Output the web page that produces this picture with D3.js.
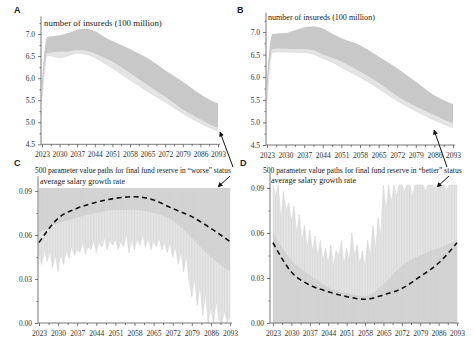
<!DOCTYPE html>
<html>
<head>
<meta charset="utf-8">
<script src="https://cdn.jsdelivr.net/npm/d3@7"></script>
<style>
  body { margin: 0; background: #fff; }
  svg { display: block; }
  .tick text { font-family: "Liberation Serif", serif; font-size: 7.5px; }
  .domain, .tick line { stroke: #555; stroke-width: 0.8; }
</style>
</head>
<body>
<svg width="474" height="346"></svg>
<script>
// ---- data ----
const tickYears = [2023, 2030, 2037, 2044, 2051, 2058, 2065, 2072, 2079, 2086, 2093];

// A / B : number of insureds (100 million), envelope of 500 paths
const bandYears = [2023, 2024, 2025, 2027, 2030, 2033, 2037, 2040, 2044, 2048, 2051, 2058, 2065, 2072, 2079, 2086, 2090, 2093];
const aUpper = [5.9, 6.6, 6.93, 6.95, 6.97, 7.02, 7.1, 7.12, 7.07, 6.93, 6.84, 6.66, 6.45, 6.18, 5.92, 5.64, 5.5, 5.43];
const aLower = [5.57, 6.2, 6.57, 6.58, 6.6, 6.6, 6.63, 6.62, 6.56, 6.45, 6.37, 6.11, 5.84, 5.58, 5.29, 5.06, 4.94, 4.87];
const aMin   = [5.55, 6.15, 6.52, 6.5, 6.46, 6.5, 6.57, 6.55, 6.47, 6.33, 6.23, 5.96, 5.7, 5.46, 5.2, 4.98, 4.87, 4.8];
const bUpper = [5.95, 6.65, 6.95, 6.97, 6.98, 7.03, 7.1, 7.12, 7.08, 6.95, 6.86, 6.71, 6.46, 6.2, 5.9, 5.6, 5.48, 5.41];
const bLower = [5.53, 6.3, 6.62, 6.63, 6.63, 6.62, 6.62, 6.6, 6.5, 6.42, 6.34, 6.12, 5.87, 5.58, 5.35, 5.16, 5.05, 4.98];
const bMin   = [5.5, 6.2, 6.55, 6.56, 6.56, 6.55, 6.55, 6.52, 6.42, 6.32, 6.22, 6.0, 5.75, 5.48, 5.25, 5.05, 4.95, 4.88];

// C / D : average salary growth rate, yearly 2023..2093
const years = d3.range(2023, 2094);
const cap = 0.092;
const cSpikeLow = [
  0.045, 0.04, 0.05, 0.042, 0.048, 0.038, 0.046,
  0.035, 0.047, 0.04, 0.05, 0.044, 0.052, 0.046,
  0.05, 0.048, 0.055, 0.047, 0.052, 0.05, 0.056,
  0.048, 0.055, 0.052, 0.058, 0.05, 0.056, 0.053,
  0.057, 0.05, 0.055, 0.052, 0.06, 0.048, 0.056,
  0.05, 0.057, 0.053, 0.06, 0.052, 0.058, 0.05,
  0.056, 0.052, 0.058, 0.05, 0.055, 0.048, 0.054,
  0.045, 0.052, 0.04, 0.048, 0.035, 0.045, 0.028,
  0.018, 0.03, 0.012, 0.025, 0.005, 0.02, 0.0,
  0.01, 0.0, 0.015, 0.002, 0.0, 0.008, 0.0,
  0.004];
const cDenseLow = [0.062, 0.068, 0.072, 0.075, 0.077, 0.077, 0.075, 0.07, 0.058, 0.045, 0.035];
const cMean = [0.0548, 0.0714, 0.0782, 0.0823, 0.085, 0.0861, 0.0839, 0.078, 0.0725, 0.0645, 0.0555];

const dSpikeHigh = [
  0.092, 0.085, 0.092, 0.07, 0.088, 0.075, 0.08,
  0.068, 0.078, 0.06, 0.072, 0.055, 0.065, 0.05,
  0.062, 0.048, 0.058, 0.045, 0.055, 0.042, 0.05,
  0.04, 0.052, 0.038, 0.048, 0.045, 0.055, 0.04,
  0.05, 0.042, 0.06, 0.045, 0.052, 0.04, 0.048,
  0.038, 0.055, 0.045, 0.065, 0.05, 0.07, 0.058,
  0.092, 0.075, 0.092, 0.08, 0.092, 0.085, 0.092,
  0.092, 0.088, 0.092, 0.092, 0.085, 0.092, 0.092,
  0.092, 0.092, 0.088, 0.092, 0.092, 0.092, 0.09,
  0.092, 0.092, 0.092, 0.088, 0.092, 0.092, 0.092,
  0.092];
const dDenseHigh = [0.06, 0.042, 0.032, 0.024, 0.02, 0.018, 0.026, 0.038, 0.045, 0.05, 0.055];
const dMean = [0.0535, 0.034, 0.0253, 0.0209, 0.0176, 0.0158, 0.0187, 0.023, 0.031, 0.040, 0.0535];

// ---- layout ----
const svg = d3.select("svg");

function fitText(sel, fs, w) {
  sel.attr("font-size", fs);
  const n = sel.node().getComputedTextLength();
  sel.attr("font-size", (fs * w / n).toFixed(2));
}

function panel(p) {
  const g = svg.append("g");
  const x = d3.scaleLinear().domain([2023, 2093]).range(p.xr);
  const y = d3.scaleLinear().domain(p.yd).range(p.yr);
  g.append("text").text(p.letter)
    .attr("x", p.lx).attr("y", p.ly)
    .attr("font-family", "Liberation Sans, Arial, sans-serif")
    .attr("font-weight", "bold").attr("font-size", 9).attr("fill", "#222");
  p.draw(g, x, y);

  // axes
  const yax = g.append("g").attr("transform", `translate(${p.ax},0)`)
    .call(d3.axisLeft(y).tickValues(p.yt).tickSize(3).tickSizeOuter(0).tickFormat(p.fmt));
  yax.select(".domain").attr("d", `M0,${y.range()[0]}V${y.range()[1]}`);
  g.append("g").attr("transform", `translate(${p.ax},0)`)
    .call(d3.axisLeft(y).tickValues(p.ym).tickSize(1.5).tickFormat(""))
    .select(".domain").remove();
  const xax = g.append("g").attr("transform", `translate(0,${p.ay})`)
    .call(d3.axisBottom(x).tickValues(tickYears).tickSize(3).tickSizeOuter(0).tickFormat(d3.format("d")));
  xax.select(".domain").attr("d", `M${p.ax},0H${x(2093) + 2}`);
  xax.selectAll("text").attr("dy", "0.9em");
  g.selectAll(".tick text").attr("fill", "#333");
  g.append("g").attr("transform", `translate(0,${p.ay})`)
    .call(d3.axisBottom(x).tickValues(tickYears.slice(1).map(t => t - 3.5)).tickSize(2).tickFormat(""))
    .select(".domain").remove();

  p.titles.forEach(t => {
    const tx = g.append("text").text(t.s).attr("x", t.x).attr("y", t.y)
      .attr("font-family", "Liberation Serif, serif")
      .attr("fill", "#222");
    fitText(tx, t.fs, t.w);
  });
}

function drawBand(upper, lower, min) {
  return (g, x, y) => {
    const pts = bandYears.map((yr, i) => ({ yr, u: upper[i], l: lower[i], m: min[i] }));
    g.append("path").datum(pts)
      .attr("d", d3.area().x(d => x(d.yr)).y0(d => y(d.m)).y1(d => y(d.l)).curve(d3.curveMonotoneX))
      .attr("fill", "#e4e4e4");
    g.append("path").datum(pts)
      .attr("d", d3.area().x(d => x(d.yr)).y0(d => y(d.l)).y1(d => y(d.u)).curve(d3.curveMonotoneX))
      .attr("fill", "#c8c8c8");
    g.append("path").datum(pts)
      .attr("d", d3.line().x(d => x(d.yr)).y(d => y(d.m)).curve(d3.curveMonotoneX))
      .attr("fill", "none").attr("stroke", "#d8d8d8").attr("stroke-width", 0.7);
  };
}

function drawRate(spike, dense, mean, top) {
  return (g, x, y) => {
    const pts = years.map((yr, i) => ({ yr, s: spike[i] }));
    const dn = tickYears.map((yr, i) => ({ yr, v: dense[i] }));
    const base = top ? 0 : cap;
    g.append("path").datum(pts)
      .attr("d", d3.area().x(d => x(d.yr)).y0(y(base)).y1(d => y(d.s)))
      .attr("fill", "#e3e3e3");
    g.append("path").datum(dn)
      .attr("d", d3.area().x(d => x(d.yr)).y0(y(base)).y1(d => y(d.v)).curve(d3.curveMonotoneX))
      .attr("fill", "#d3d3d3");
    // faint vertical streaks of the individual paths
    g.append("g").selectAll("line").data(pts).join("line")
      .attr("x1", d => x(d.yr)).attr("x2", d => x(d.yr))
      .attr("y1", y(base)).attr("y2", d => y(d.s))
      .attr("stroke", "#d2d2d2").attr("stroke-width", 0.5);
    g.append("path").datum(pts)
      .attr("d", d3.line().x(d => x(d.yr)).y(d => y(d.s)))
      .attr("fill", "none").attr("stroke", "#d6d6d6").attr("stroke-width", 0.5);
    g.append("path").datum(tickYears.map((yr, i) => ({ yr, v: mean[i] })))
      .attr("d", d3.line().x(d => x(d.yr)).y(d => y(d.v)).curve(d3.curveMonotoneX))
      .attr("fill", "none").attr("stroke", "#111").attr("stroke-width", 1.6)
      .attr("stroke-dasharray", "5,3.5");
  };
}

const yTicksA = [4.5, 5.0, 5.5, 6.0, 6.5, 7.0];
const yMinorA = [4.75, 5.25, 5.75, 6.25, 6.75, 7.25];
const yTicksC = [0, 0.03, 0.06, 0.09];
const yMinorC = [0.015, 0.045, 0.075];

panel({ letter: "A", lx: 14, ly: 13, xr: [42, 218], yd: [4.5, 7.4], yr: [144.3, 16.4], ax: 41, ay: 144.3,
  yt: yTicksA, ym: yMinorA, fmt: d3.format(".1f"),
  titles: [{ s: "number of insureds (100 million)", x: 44, y: 26, fs: 10, w: 118 }],
  draw: drawBand(aUpper, aLower, aMin) });
panel({ letter: "B", lx: 237, ly: 13, xr: [267, 453], yd: [4.5, 7.43], yr: [145, 12.6], ax: 266, ay: 145,
  yt: yTicksA, ym: yMinorA, fmt: d3.format(".1f"),
  titles: [{ s: "number of insureds (100 million)", x: 268, y: 20, fs: 9.5, w: 107 }],
  draw: drawBand(bUpper, bLower, bMin) });
panel({ letter: "C", lx: 14, ly: 166, xr: [39, 230], yd: [0, 0.1], yr: [323, 176.3], ax: 38, ay: 323,
  yt: yTicksC, ym: yMinorC, fmt: d3.format(".2f"),
  titles: [{ s: "500 parameter value paths for final fund reserve in \u201cworse\u201d status", x: 35, y: 173, fs: 9, w: 196 },
           { s: "average salary growth rate", x: 40, y: 184, fs: 9, w: 85 }],
  draw: drawRate(cSpikeLow, cDenseLow, cMean, false) });
panel({ letter: "D", lx: 240, ly: 166, xr: [273, 457], yd: [0, 0.1], yr: [323, 173], ax: 270, ay: 323,
  yt: yTicksC, ym: yMinorC, fmt: d3.format(".2f"),
  titles: [{ s: "500 parameter value paths for final fund reserve in \u201cbetter\u201d status", x: 263, y: 173, fs: 9, w: 199 },
           { s: "average salary growth rate", x: 271, y: 183, fs: 9, w: 85 }],
  draw: drawRate(dSpikeHigh, dDenseHigh, dMean, true) });

// arrows linking the final points of A/B to the C/D paths
const defs = svg.append("defs");
defs.append("marker").attr("id", "ah").attr("viewBox", "0 0 10 10").attr("refX", 9).attr("refY", 5)
  .attr("markerWidth", 5).attr("markerHeight", 5).attr("orient", "auto")
  .append("path").attr("d", "M0,0L10,5L0,10z").attr("fill", "#111");
const arrows = [[233, 167, 220, 132], [230, 176, 218, 187], [447, 167, 434, 130], [449, 176, 437, 187]];
svg.selectAll("line.arrow").data(arrows).join("line").attr("class", "arrow")
  .attr("x1", d => d[0]).attr("y1", d => d[1]).attr("x2", d => d[2]).attr("y2", d => d[3])
  .attr("stroke", "#111").attr("stroke-width", 1).attr("marker-end", "url(#ah)");
</script>
</body>
</html>
